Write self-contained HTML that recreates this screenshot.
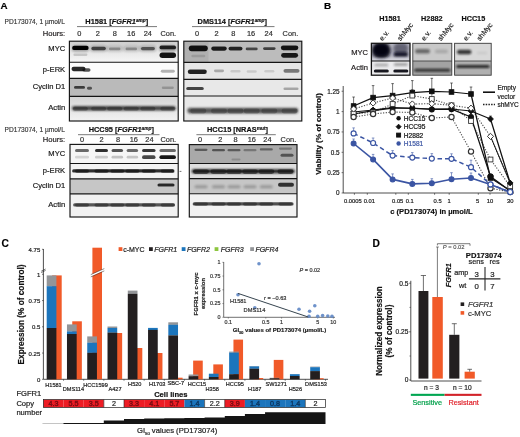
<!DOCTYPE html>
<html lang="en"><head><meta charset="utf-8"><title>Figure</title>
<style>html,body{margin:0;padding:0;background:#fff;}svg{display:block;font-family:"Liberation Sans", Arial, sans-serif;}</style>
</head><body>
<svg width="520" height="437" viewBox="0 0 520 437">
<defs>
<filter id="b1" x="-20%" y="-80%" width="140%" height="260%"><feGaussianBlur stdDeviation="0.6"/></filter>
<filter id="b2" x="-20%" y="-80%" width="140%" height="260%"><feGaussianBlur stdDeviation="1.1"/></filter>
<filter id="b3" x="-30%" y="-30%" width="160%" height="160%"><feGaussianBlur stdDeviation="1.8"/></filter>
<filter id="soft" x="-5%" y="-5%" width="110%" height="110%"><feGaussianBlur stdDeviation="0.35"/></filter>
<linearGradient id="gH1" x1="0" y1="0" x2="0" y2="1"><stop offset="0" stop-color="#cdcdcd"/><stop offset="0.55" stop-color="#e8e8e8"/><stop offset="1" stop-color="#f6f6f6"/></linearGradient>
<linearGradient id="gH2" x1="0" y1="0" x2="0" y2="1"><stop offset="0" stop-color="#d4d4d4"/><stop offset="0.5" stop-color="#e4e4e4"/><stop offset="1" stop-color="#f2f2f2"/></linearGradient>
</defs>
<rect x="0" y="0" width="520" height="437" fill="#ffffff"/>
<text x="0.50" y="9.43" font-size="9.8" text-anchor="start" font-weight="bold" font-style="normal" fill="#000" stroke="#000" stroke-width="0.18">A</text>
<text x="65.20" y="51.14" font-size="7.6" text-anchor="end" font-weight="normal" font-style="normal" fill="#1a1a1a" stroke="#1a1a1a" stroke-width="0.2">MYC</text>
<text x="65.20" y="71.94" font-size="7.6" text-anchor="end" font-weight="normal" font-style="normal" fill="#1a1a1a" stroke="#1a1a1a" stroke-width="0.2">p-ERK</text>
<text x="65.20" y="89.34" font-size="7.6" text-anchor="end" font-weight="normal" font-style="normal" fill="#1a1a1a" stroke="#1a1a1a" stroke-width="0.2">Cyclin D1</text>
<text x="65.20" y="109.94" font-size="7.6" text-anchor="end" font-weight="normal" font-style="normal" fill="#1a1a1a" stroke="#1a1a1a" stroke-width="0.2">Actin</text>
<text x="65.20" y="155.94" font-size="7.6" text-anchor="end" font-weight="normal" font-style="normal" fill="#1a1a1a" stroke="#1a1a1a" stroke-width="0.2">MYC</text>
<text x="65.20" y="173.14" font-size="7.6" text-anchor="end" font-weight="normal" font-style="normal" fill="#1a1a1a" stroke="#1a1a1a" stroke-width="0.2">p-ERK</text>
<text x="65.20" y="187.94" font-size="7.6" text-anchor="end" font-weight="normal" font-style="normal" fill="#1a1a1a" stroke="#1a1a1a" stroke-width="0.2">Cyclin D1</text>
<text x="65.20" y="206.54" font-size="7.6" text-anchor="end" font-weight="normal" font-style="normal" fill="#1a1a1a" stroke="#1a1a1a" stroke-width="0.2">Actin</text>
<text x="65.20" y="36.04" font-size="7.6" text-anchor="end" font-weight="normal" font-style="normal" fill="#231f20" stroke="#231f20" stroke-width="0.2">Hours:</text>
<text x="65.20" y="142.34" font-size="7.6" text-anchor="end" font-weight="normal" font-style="normal" fill="#231f20" stroke="#231f20" stroke-width="0.2">Hours:</text>
<text x="4.60" y="24.08" font-size="6.6" text-anchor="start" font-weight="normal" font-style="normal" fill="#303030" stroke="#303030" stroke-width="0.14">PD173074, 1 µmol/L</text>
<text x="4.60" y="132.08" font-size="6.6" text-anchor="start" font-weight="normal" font-style="normal" fill="#303030" stroke="#303030" stroke-width="0.14">PD173074, 1 µmol/L</text>
<text x="116.80" y="24.06" font-size="7.4" text-anchor="middle" font-weight="bold" font-style="normal" fill="#111" stroke="#111" stroke-width="0.18">H1581 [<tspan font-style="italic">FGFR1</tspan><tspan font-size="4.8" dy="-2.3" font-style="italic">amp</tspan><tspan dy="2.3">]</tspan></text>
<line x1="77.00" y1="26.60" x2="157.00" y2="26.60" stroke="#6a6a6a" stroke-width="0.9"/>
<text x="79.20" y="36.06" font-size="7.4" text-anchor="middle" font-weight="normal" font-style="normal" fill="#333" stroke="#333" stroke-width="0.2">0</text>
<text x="97.90" y="36.06" font-size="7.4" text-anchor="middle" font-weight="normal" font-style="normal" fill="#333" stroke="#333" stroke-width="0.2">2</text>
<text x="114.70" y="36.06" font-size="7.4" text-anchor="middle" font-weight="normal" font-style="normal" fill="#333" stroke="#333" stroke-width="0.2">8</text>
<text x="131.20" y="36.06" font-size="7.4" text-anchor="middle" font-weight="normal" font-style="normal" fill="#333" stroke="#333" stroke-width="0.2">16</text>
<text x="147.80" y="36.06" font-size="7.4" text-anchor="middle" font-weight="normal" font-style="normal" fill="#333" stroke="#333" stroke-width="0.2">24</text>
<text x="168.30" y="36.06" font-size="7.4" text-anchor="middle" font-weight="normal" font-style="normal" fill="#333" stroke="#333" stroke-width="0.2">Con.</text>
<rect x="69.40" y="41.20" width="108.80" height="21.00" fill="url(#gH1)"/>
<rect x="69.40" y="62.20" width="108.80" height="16.10" fill="#fcfcfc"/>
<rect x="69.40" y="78.30" width="108.80" height="18.10" fill="#bababa"/>
<rect x="69.40" y="96.40" width="108.80" height="24.60" fill="url(#gH2)"/>
<rect x="71.90" y="45.35" width="17.00" height="6.50" rx="3.25" fill="#111" opacity="0.3" filter="url(#b2)"/>
<rect x="90.10" y="45.35" width="17.00" height="6.50" rx="3.25" fill="#111" opacity="0.22" filter="url(#b2)"/>
<rect x="106.20" y="45.35" width="17.00" height="6.50" rx="3.25" fill="#111" opacity="0.14" filter="url(#b2)"/>
<rect x="122.80" y="45.35" width="17.00" height="6.50" rx="3.25" fill="#111" opacity="0.14" filter="url(#b2)"/>
<rect x="139.40" y="45.35" width="17.00" height="6.50" rx="3.25" fill="#111" opacity="0.2" filter="url(#b2)"/>
<rect x="159.30" y="45.35" width="17.00" height="6.50" rx="3.25" fill="#111" opacity="0.3" filter="url(#b2)"/>
<rect x="72.15" y="45.70" width="16.50" height="4.40" rx="2.20" fill="#050505" opacity="1.0" filter="url(#b1)"/>
<rect x="73.40" y="53.55" width="14.00" height="2.50" rx="1.25" fill="#111" opacity="0.16" filter="url(#b1)"/>
<rect x="91.35" y="46.85" width="14.50" height="3.30" rx="1.65" fill="#111" opacity="0.68" filter="url(#b1)"/>
<rect x="108.95" y="47.45" width="11.50" height="2.90" rx="1.45" fill="#111" opacity="0.3" filter="url(#b1)"/>
<rect x="125.55" y="47.45" width="11.50" height="2.90" rx="1.45" fill="#111" opacity="0.3" filter="url(#b1)"/>
<rect x="140.90" y="46.95" width="14.00" height="3.30" rx="1.65" fill="#111" opacity="0.58" filter="url(#b1)"/>
<rect x="159.55" y="45.55" width="16.50" height="3.70" rx="1.85" fill="#111" opacity="0.88" filter="url(#b1)"/>
<rect x="159.55" y="52.45" width="16.50" height="5.50" rx="2.75" fill="#111" opacity="0.97" filter="url(#b1)"/>
<rect x="71.50" y="66.85" width="14.00" height="4.30" rx="2.15" fill="#111" opacity="0.88" filter="url(#b1)"/>
<rect x="82.50" y="68.25" width="8.00" height="3.50" rx="1.75" fill="#111" opacity="0.7" filter="url(#b1)"/>
<rect x="160.80" y="69.85" width="14.00" height="2.90" rx="1.45" fill="#111" opacity="0.3" filter="url(#b1)"/>
<rect x="74.00" y="85.95" width="11.00" height="2.90" rx="1.45" fill="#111" opacity="0.72" filter="url(#b1)"/>
<rect x="87.00" y="86.75" width="5.00" height="2.90" rx="1.45" fill="#111" opacity="0.6" filter="url(#b1)"/>
<rect x="161.80" y="86.55" width="12.00" height="2.50" rx="1.25" fill="#111" opacity="0.22" filter="url(#b1)"/>
<rect x="71.80" y="105.90" width="104.00" height="4.60" rx="2.30" fill="#1c1c1c" opacity="0.78" filter="url(#b2)"/>
<rect x="72.90" y="106.75" width="15.00" height="3.90" rx="1.95" fill="#111" opacity="0.3" filter="url(#b1)"/>
<rect x="91.10" y="106.75" width="15.00" height="3.90" rx="1.95" fill="#111" opacity="0.3" filter="url(#b1)"/>
<rect x="107.20" y="106.75" width="15.00" height="3.90" rx="1.95" fill="#111" opacity="0.3" filter="url(#b1)"/>
<rect x="123.80" y="106.75" width="15.00" height="3.90" rx="1.95" fill="#111" opacity="0.3" filter="url(#b1)"/>
<rect x="140.40" y="106.75" width="15.00" height="3.90" rx="1.95" fill="#111" opacity="0.3" filter="url(#b1)"/>
<rect x="160.30" y="106.75" width="15.00" height="3.90" rx="1.95" fill="#111" opacity="0.3" filter="url(#b1)"/>
<rect x="69.40" y="41.20" width="108.80" height="79.80" fill="none" stroke="#141414" stroke-width="1.15"/>
<line x1="69.40" y1="62.20" x2="178.20" y2="62.20" stroke="#141414" stroke-width="1.15"/>
<line x1="69.40" y1="78.30" x2="178.20" y2="78.30" stroke="#141414" stroke-width="1.15"/>
<line x1="69.40" y1="96.40" x2="178.20" y2="96.40" stroke="#141414" stroke-width="1.15"/>
<text x="232.30" y="24.06" font-size="7.4" text-anchor="middle" font-weight="bold" font-style="normal" fill="#111" stroke="#111" stroke-width="0.18">DMS114 [<tspan font-style="italic">FGFR1</tspan><tspan font-size="4.8" dy="-2.3" font-style="italic">amp</tspan><tspan dy="2.3">]</tspan></text>
<line x1="192.00" y1="26.60" x2="274.50" y2="26.60" stroke="#6a6a6a" stroke-width="0.9"/>
<text x="197.00" y="36.06" font-size="7.4" text-anchor="middle" font-weight="normal" font-style="normal" fill="#333" stroke="#333" stroke-width="0.2">0</text>
<text x="216.60" y="36.06" font-size="7.4" text-anchor="middle" font-weight="normal" font-style="normal" fill="#333" stroke="#333" stroke-width="0.2">2</text>
<text x="233.40" y="36.06" font-size="7.4" text-anchor="middle" font-weight="normal" font-style="normal" fill="#333" stroke="#333" stroke-width="0.2">8</text>
<text x="251.00" y="36.06" font-size="7.4" text-anchor="middle" font-weight="normal" font-style="normal" fill="#333" stroke="#333" stroke-width="0.2">16</text>
<text x="268.70" y="36.06" font-size="7.4" text-anchor="middle" font-weight="normal" font-style="normal" fill="#333" stroke="#333" stroke-width="0.2">24</text>
<text x="290.40" y="36.06" font-size="7.4" text-anchor="middle" font-weight="normal" font-style="normal" fill="#333" stroke="#333" stroke-width="0.2">Con.</text>
<rect x="183.80" y="41.20" width="118.00" height="21.20" fill="#b0b0b0"/>
<rect x="183.80" y="62.40" width="118.00" height="16.90" fill="#e6e6e6"/>
<rect x="183.80" y="79.30" width="118.00" height="16.70" fill="#e8e8e8"/>
<rect x="183.80" y="96.00" width="118.00" height="25.00" fill="#e8e8e8"/>
<rect x="208.5" y="41.2" width="93.3" height="21.2" fill="#bcbcbc"/>
<rect x="188.80" y="45.45" width="19.00" height="5.70" rx="2.85" fill="#111" opacity="0.98" filter="url(#b1)"/>
<rect x="191.30" y="54.65" width="14.00" height="2.70" rx="1.35" fill="#111" opacity="0.13" filter="url(#b1)"/>
<rect x="211.25" y="46.45" width="15.50" height="4.30" rx="2.15" fill="#111" opacity="0.92" filter="url(#b1)"/>
<rect x="228.50" y="46.65" width="14.00" height="3.90" rx="1.95" fill="#111" opacity="0.88" filter="url(#b1)"/>
<rect x="245.70" y="47.45" width="12.00" height="2.90" rx="1.45" fill="#111" opacity="0.68" filter="url(#b1)"/>
<rect x="263.05" y="47.15" width="12.50" height="2.90" rx="1.45" fill="#111" opacity="0.72" filter="url(#b1)"/>
<rect x="280.85" y="45.45" width="17.50" height="4.70" rx="2.35" fill="#111" opacity="0.96" filter="url(#b1)"/>
<rect x="281.10" y="52.95" width="17.00" height="4.70" rx="2.35" fill="#111" opacity="0.94" filter="url(#b1)"/>
<rect x="187.80" y="69.45" width="19.00" height="4.50" rx="2.25" fill="#111" opacity="0.9" filter="url(#b1)"/>
<rect x="214.00" y="69.45" width="10.00" height="2.70" rx="1.35" fill="#111" opacity="0.28" filter="url(#b1)"/>
<rect x="230.50" y="69.95" width="10.00" height="2.50" rx="1.25" fill="#111" opacity="0.13" filter="url(#b1)"/>
<rect x="246.70" y="70.25" width="10.00" height="2.50" rx="1.25" fill="#111" opacity="0.13" filter="url(#b1)"/>
<rect x="264.30" y="69.95" width="10.00" height="2.50" rx="1.25" fill="#111" opacity="0.12" filter="url(#b1)"/>
<rect x="283.50" y="68.95" width="16.00" height="3.70" rx="1.85" fill="#111" opacity="0.5" filter="url(#b1)"/>
<rect x="186.25" y="86.95" width="17.50" height="3.10" rx="1.55" fill="#111" opacity="0.75" filter="url(#b1)"/>
<rect x="283.50" y="87.45" width="15.00" height="2.50" rx="1.25" fill="#111" opacity="0.3" filter="url(#b1)"/>
<rect x="187.30" y="107.80" width="111.00" height="5.60" rx="2.80" fill="#222" opacity="0.72" filter="url(#b2)"/>
<rect x="190.30" y="108.55" width="16.00" height="4.90" rx="2.45" fill="#111" opacity="0.25" filter="url(#b1)"/>
<rect x="211.00" y="108.55" width="16.00" height="4.90" rx="2.45" fill="#111" opacity="0.25" filter="url(#b1)"/>
<rect x="227.50" y="108.55" width="16.00" height="4.90" rx="2.45" fill="#111" opacity="0.25" filter="url(#b1)"/>
<rect x="243.70" y="108.55" width="16.00" height="4.90" rx="2.45" fill="#111" opacity="0.25" filter="url(#b1)"/>
<rect x="261.30" y="108.55" width="16.00" height="4.90" rx="2.45" fill="#111" opacity="0.25" filter="url(#b1)"/>
<rect x="281.60" y="108.55" width="16.00" height="4.90" rx="2.45" fill="#111" opacity="0.25" filter="url(#b1)"/>
<rect x="183.80" y="41.20" width="118.00" height="79.80" fill="none" stroke="#141414" stroke-width="1.15"/>
<line x1="183.80" y1="62.40" x2="301.80" y2="62.40" stroke="#141414" stroke-width="1.15"/>
<line x1="183.80" y1="79.30" x2="301.80" y2="79.30" stroke="#141414" stroke-width="1.15"/>
<line x1="183.80" y1="96.00" x2="301.80" y2="96.00" stroke="#141414" stroke-width="1.15"/>
<text x="121.30" y="132.16" font-size="7.4" text-anchor="middle" font-weight="bold" font-style="normal" fill="#111" stroke="#111" stroke-width="0.18">HCC95 [<tspan font-style="italic">FGFR1</tspan><tspan font-size="4.8" dy="-2.3" font-style="italic">amp</tspan><tspan dy="2.3">]</tspan></text>
<line x1="78.00" y1="134.70" x2="159.50" y2="134.70" stroke="#6a6a6a" stroke-width="0.9"/>
<text x="82.00" y="142.36" font-size="7.4" text-anchor="middle" font-weight="normal" font-style="normal" fill="#333" stroke="#333" stroke-width="0.2">0</text>
<text x="101.50" y="142.36" font-size="7.4" text-anchor="middle" font-weight="normal" font-style="normal" fill="#333" stroke="#333" stroke-width="0.2">2</text>
<text x="118.00" y="142.36" font-size="7.4" text-anchor="middle" font-weight="normal" font-style="normal" fill="#333" stroke="#333" stroke-width="0.2">8</text>
<text x="133.80" y="142.36" font-size="7.4" text-anchor="middle" font-weight="normal" font-style="normal" fill="#333" stroke="#333" stroke-width="0.2">16</text>
<text x="149.40" y="142.36" font-size="7.4" text-anchor="middle" font-weight="normal" font-style="normal" fill="#333" stroke="#333" stroke-width="0.2">24</text>
<text x="168.30" y="142.36" font-size="7.4" text-anchor="middle" font-weight="normal" font-style="normal" fill="#333" stroke="#333" stroke-width="0.2">Con.</text>
<rect x="70.00" y="144.40" width="108.20" height="19.10" fill="#f6f6f6"/>
<rect x="70.00" y="163.50" width="108.20" height="15.30" fill="#f3f3f3"/>
<rect x="70.00" y="178.80" width="108.20" height="15.00" fill="#c6c6c6"/>
<rect x="70.00" y="193.80" width="108.20" height="23.20" fill="#f1f1f1"/>
<rect x="75.00" y="148.90" width="14.00" height="3.00" rx="1.50" fill="#111" opacity="0.6" filter="url(#b1)"/>
<rect x="75.00" y="155.85" width="14.00" height="2.70" rx="1.35" fill="#111" opacity="0.14" filter="url(#b1)"/>
<rect x="95.00" y="148.90" width="13.00" height="3.00" rx="1.50" fill="#111" opacity="0.85" filter="url(#b1)"/>
<rect x="95.00" y="155.85" width="13.00" height="2.70" rx="1.35" fill="#111" opacity="0.18" filter="url(#b1)"/>
<rect x="111.55" y="148.90" width="11.50" height="3.00" rx="1.50" fill="#111" opacity="0.7" filter="url(#b1)"/>
<rect x="111.55" y="155.85" width="11.50" height="2.70" rx="1.35" fill="#111" opacity="0.22" filter="url(#b1)"/>
<rect x="126.65" y="148.90" width="11.50" height="3.00" rx="1.50" fill="#111" opacity="0.6" filter="url(#b1)"/>
<rect x="126.65" y="155.85" width="11.50" height="2.70" rx="1.35" fill="#111" opacity="0.2" filter="url(#b1)"/>
<rect x="142.05" y="148.90" width="13.50" height="3.00" rx="1.50" fill="#111" opacity="0.82" filter="url(#b1)"/>
<rect x="142.05" y="155.30" width="13.50" height="3.80" rx="1.90" fill="#111" opacity="0.75" filter="url(#b1)"/>
<rect x="159.45" y="148.90" width="16.50" height="3.00" rx="1.50" fill="#111" opacity="0.6" filter="url(#b1)"/>
<rect x="159.45" y="155.30" width="16.50" height="3.80" rx="1.90" fill="#111" opacity="0.96" filter="url(#b1)"/>
<rect x="72.10" y="169.35" width="102.00" height="3.10" rx="1.55" fill="#111" opacity="0.85" filter="url(#b1)"/>
<rect x="75.00" y="169.20" width="14.00" height="3.80" rx="1.90" fill="#111" opacity="0.5" filter="url(#b1)"/>
<rect x="94.50" y="169.20" width="14.00" height="3.80" rx="1.90" fill="#111" opacity="0.5" filter="url(#b1)"/>
<rect x="110.30" y="169.20" width="14.00" height="3.80" rx="1.90" fill="#111" opacity="0.5" filter="url(#b1)"/>
<rect x="125.40" y="169.20" width="14.00" height="3.80" rx="1.90" fill="#111" opacity="0.5" filter="url(#b1)"/>
<rect x="141.80" y="169.20" width="14.00" height="3.80" rx="1.90" fill="#111" opacity="0.5" filter="url(#b1)"/>
<rect x="160.70" y="169.20" width="14.00" height="3.80" rx="1.90" fill="#111" opacity="0.5" filter="url(#b1)"/>
<rect x="157.50" y="183.40" width="17.00" height="3.20" rx="1.60" fill="#111" opacity="0.85" filter="url(#b1)"/>
<rect x="73.10" y="203.25" width="102.00" height="3.30" rx="1.65" fill="#111" opacity="0.68" filter="url(#b1)"/>
<rect x="75.00" y="203.30" width="14.00" height="3.60" rx="1.80" fill="#111" opacity="0.35" filter="url(#b1)"/>
<rect x="94.50" y="203.30" width="14.00" height="3.60" rx="1.80" fill="#111" opacity="0.35" filter="url(#b1)"/>
<rect x="110.30" y="203.30" width="14.00" height="3.60" rx="1.80" fill="#111" opacity="0.35" filter="url(#b1)"/>
<rect x="125.40" y="203.30" width="14.00" height="3.60" rx="1.80" fill="#111" opacity="0.35" filter="url(#b1)"/>
<rect x="141.80" y="203.30" width="14.00" height="3.60" rx="1.80" fill="#111" opacity="0.35" filter="url(#b1)"/>
<rect x="160.70" y="203.30" width="14.00" height="3.60" rx="1.80" fill="#111" opacity="0.35" filter="url(#b1)"/>
<rect x="70.00" y="144.40" width="108.20" height="72.60" fill="none" stroke="#141414" stroke-width="1.15"/>
<line x1="70.00" y1="163.50" x2="178.20" y2="163.50" stroke="#141414" stroke-width="1.15"/>
<line x1="70.00" y1="178.80" x2="178.20" y2="178.80" stroke="#141414" stroke-width="1.15"/>
<line x1="70.00" y1="193.80" x2="178.20" y2="193.80" stroke="#141414" stroke-width="1.15"/>
<text x="237.50" y="132.16" font-size="7.4" text-anchor="middle" font-weight="bold" font-style="normal" fill="#111" stroke="#111" stroke-width="0.18">HCC15 [<tspan>NRAS</tspan><tspan font-size="4.8" dy="-2.3">mut</tspan><tspan dy="2.3">]</tspan></text>
<line x1="196.40" y1="134.70" x2="275.80" y2="134.70" stroke="#6a6a6a" stroke-width="0.9"/>
<text x="200.00" y="142.36" font-size="7.4" text-anchor="middle" font-weight="normal" font-style="normal" fill="#333" stroke="#333" stroke-width="0.2">0</text>
<text x="220.30" y="142.36" font-size="7.4" text-anchor="middle" font-weight="normal" font-style="normal" fill="#333" stroke="#333" stroke-width="0.2">2</text>
<text x="235.50" y="142.36" font-size="7.4" text-anchor="middle" font-weight="normal" font-style="normal" fill="#333" stroke="#333" stroke-width="0.2">8</text>
<text x="251.80" y="142.36" font-size="7.4" text-anchor="middle" font-weight="normal" font-style="normal" fill="#333" stroke="#333" stroke-width="0.2">16</text>
<text x="267.40" y="142.36" font-size="7.4" text-anchor="middle" font-weight="normal" font-style="normal" fill="#333" stroke="#333" stroke-width="0.2">24</text>
<text x="288.40" y="142.36" font-size="7.4" text-anchor="middle" font-weight="normal" font-style="normal" fill="#333" stroke="#333" stroke-width="0.2">Con.</text>
<rect x="189.30" y="144.60" width="107.70" height="18.90" fill="#a9a9a9"/>
<rect x="189.30" y="163.50" width="107.70" height="15.10" fill="#dedede"/>
<rect x="189.30" y="178.60" width="107.70" height="15.10" fill="#c6c6c6"/>
<rect x="189.30" y="193.70" width="107.70" height="23.30" fill="#f2f2f2"/>
<rect x="194.50" y="148.65" width="13.00" height="2.30" rx="1.15" fill="#111" opacity="0.5" filter="url(#b1)"/>
<rect x="212.00" y="149.05" width="13.00" height="2.30" rx="1.15" fill="#111" opacity="0.55" filter="url(#b1)"/>
<rect x="227.50" y="149.05" width="13.00" height="2.30" rx="1.15" fill="#111" opacity="0.5" filter="url(#b1)"/>
<rect x="243.50" y="149.05" width="13.00" height="2.30" rx="1.15" fill="#111" opacity="0.32" filter="url(#b1)"/>
<rect x="259.80" y="148.25" width="13.00" height="2.30" rx="1.15" fill="#111" opacity="0.45" filter="url(#b1)"/>
<rect x="279.00" y="147.45" width="13.00" height="2.30" rx="1.15" fill="#111" opacity="0.32" filter="url(#b1)"/>
<rect x="280.50" y="153.70" width="13.00" height="3.00" rx="1.50" fill="#111" opacity="0.55" filter="url(#b1)"/>
<rect x="231.50" y="158.55" width="9.00" height="1.90" rx="0.95" fill="#111" opacity="0.18" filter="url(#b1)"/>
<rect x="191.65" y="169.20" width="103.00" height="4.00" rx="2.00" fill="#111" opacity="0.9" filter="url(#b2)"/>
<rect x="193.00" y="169.15" width="16.00" height="4.90" rx="2.45" fill="#111" opacity="0.55" filter="url(#b1)"/>
<rect x="210.50" y="169.15" width="16.00" height="4.90" rx="2.45" fill="#111" opacity="0.55" filter="url(#b1)"/>
<rect x="226.00" y="169.15" width="16.00" height="4.90" rx="2.45" fill="#111" opacity="0.55" filter="url(#b1)"/>
<rect x="242.00" y="169.15" width="16.00" height="4.90" rx="2.45" fill="#111" opacity="0.55" filter="url(#b1)"/>
<rect x="258.30" y="169.15" width="16.00" height="4.90" rx="2.45" fill="#111" opacity="0.55" filter="url(#b1)"/>
<rect x="277.50" y="169.15" width="16.00" height="4.90" rx="2.45" fill="#111" opacity="0.55" filter="url(#b1)"/>
<rect x="194.50" y="185.30" width="13.00" height="3.00" rx="1.50" fill="#111" opacity="0.25" filter="url(#b2)"/>
<rect x="212.00" y="185.30" width="13.00" height="3.00" rx="1.50" fill="#111" opacity="0.25" filter="url(#b2)"/>
<rect x="227.50" y="185.30" width="13.00" height="3.00" rx="1.50" fill="#111" opacity="0.25" filter="url(#b2)"/>
<rect x="243.50" y="185.30" width="13.00" height="3.00" rx="1.50" fill="#111" opacity="0.25" filter="url(#b2)"/>
<rect x="259.80" y="185.30" width="13.00" height="3.00" rx="1.50" fill="#111" opacity="0.25" filter="url(#b2)"/>
<rect x="278.00" y="182.85" width="16.00" height="3.90" rx="1.95" fill="#111" opacity="0.8" filter="url(#b1)"/>
<rect x="192.65" y="202.25" width="101.00" height="3.30" rx="1.65" fill="#111" opacity="0.7" filter="url(#b1)"/>
<rect x="194.00" y="202.30" width="14.00" height="3.60" rx="1.80" fill="#111" opacity="0.35" filter="url(#b1)"/>
<rect x="211.50" y="202.30" width="14.00" height="3.60" rx="1.80" fill="#111" opacity="0.35" filter="url(#b1)"/>
<rect x="227.00" y="202.30" width="14.00" height="3.60" rx="1.80" fill="#111" opacity="0.35" filter="url(#b1)"/>
<rect x="243.00" y="202.30" width="14.00" height="3.60" rx="1.80" fill="#111" opacity="0.35" filter="url(#b1)"/>
<rect x="259.30" y="202.30" width="14.00" height="3.60" rx="1.80" fill="#111" opacity="0.35" filter="url(#b1)"/>
<rect x="278.50" y="202.30" width="14.00" height="3.60" rx="1.80" fill="#111" opacity="0.35" filter="url(#b1)"/>
<rect x="189.30" y="144.60" width="107.70" height="72.40" fill="none" stroke="#141414" stroke-width="1.15"/>
<line x1="189.30" y1="163.50" x2="297.00" y2="163.50" stroke="#141414" stroke-width="1.15"/>
<line x1="189.30" y1="178.60" x2="297.00" y2="178.60" stroke="#141414" stroke-width="1.15"/>
<line x1="189.30" y1="193.70" x2="297.00" y2="193.70" stroke="#141414" stroke-width="1.15"/>
<line x1="179.60" y1="171.40" x2="181.40" y2="171.40" stroke="#333" stroke-width="0.7"/>
<text x="324.00" y="9.06" font-size="9.9" text-anchor="start" font-weight="bold" font-style="normal" fill="#000" stroke="#000" stroke-width="0.18">B</text>
<text x="390.00" y="20.81" font-size="7.25" text-anchor="middle" font-weight="bold" font-style="normal" fill="#111" stroke="#111" stroke-width="0.18">H1581</text>
<text x="431.80" y="20.81" font-size="7.25" text-anchor="middle" font-weight="bold" font-style="normal" fill="#111" stroke="#111" stroke-width="0.18">H2882</text>
<text x="473.30" y="20.81" font-size="7.25" text-anchor="middle" font-weight="bold" font-style="normal" fill="#111" stroke="#111" stroke-width="0.18">HCC15</text>
<text x="382.6" y="41.2" font-size="7.1" fill="#1a1a1a" stroke="#1a1a1a" stroke-width="0.15" transform="rotate(-51 382.6 41.2)">e.v.</text>
<text x="400.6" y="41.2" font-size="7.1" fill="#1a1a1a" stroke="#1a1a1a" stroke-width="0.15" transform="rotate(-51 400.6 41.2)">shMyc</text>
<text x="424.4" y="41.2" font-size="7.1" fill="#1a1a1a" stroke="#1a1a1a" stroke-width="0.15" transform="rotate(-51 424.4 41.2)">e.v.</text>
<text x="441.0" y="41.2" font-size="7.1" fill="#1a1a1a" stroke="#1a1a1a" stroke-width="0.15" transform="rotate(-51 441.0 41.2)">shMyc</text>
<text x="466.4" y="41.2" font-size="7.1" fill="#1a1a1a" stroke="#1a1a1a" stroke-width="0.15" transform="rotate(-51 466.4 41.2)">e.v.</text>
<text x="480.0" y="41.2" font-size="7.1" fill="#1a1a1a" stroke="#1a1a1a" stroke-width="0.15" transform="rotate(-51 480.0 41.2)">shMyc</text>
<text x="368.00" y="54.74" font-size="7.6" text-anchor="end" font-weight="normal" font-style="normal" fill="#231f20" stroke="#231f20" stroke-width="0.2">MYC</text>
<text x="368.00" y="70.34" font-size="7.6" text-anchor="end" font-weight="normal" font-style="normal" fill="#231f20" stroke="#231f20" stroke-width="0.2">Actin</text>
<clipPath id="cpB1"><rect x="371.4" y="43.3" width="38.60000000000002" height="31.9"/></clipPath>
<g clip-path="url(#cpB1)">
<rect x="371.40" y="43.30" width="38.60" height="17.70" fill="#b9b9c4"/>
<rect x="371.40" y="61.00" width="38.60" height="14.20" fill="#ececee"/>
<rect x="371.80" y="42.00" width="19.00" height="17.00" rx="8.50" fill="#0c0c1e" opacity="0.95" filter="url(#b3)"/>
<rect x="374.00" y="45.00" width="14.00" height="10.00" rx="5.00" fill="#05050f" opacity="0.85" filter="url(#b2)"/>
<rect x="393.30" y="43.00" width="15.00" height="11.00" rx="5.50" fill="#1a1a30" opacity="0.55" filter="url(#b3)"/>
<rect x="393.55" y="52.10" width="14.50" height="4.60" rx="2.30" fill="#0c0c20" opacity="0.9" filter="url(#b2)"/>
<rect x="371" y="58.2" width="39" height="3" fill="#f0f0f4" opacity="0.55" filter="url(#b2)"/>
<rect x="371.40" y="61.00" width="38.60" height="14.20" fill="#ececee"/>
<rect x="373.80" y="69.45" width="15.00" height="3.10" rx="1.55" fill="#101018" opacity="0.95" filter="url(#b1)"/>
<rect x="393.30" y="69.45" width="15.00" height="3.10" rx="1.55" fill="#101018" opacity="0.95" filter="url(#b1)"/>
<rect x="374.30" y="63.50" width="14.00" height="3.00" rx="1.50" fill="#111" opacity="0.28" filter="url(#b2)"/>
<rect x="393.80" y="63.10" width="14.00" height="3.00" rx="1.50" fill="#111" opacity="0.32" filter="url(#b2)"/>
</g>
<rect x="371.40" y="43.30" width="38.60" height="31.90" fill="none" stroke="#141414" stroke-width="1.3"/>
<line x1="371.40" y1="61.00" x2="410.00" y2="61.00" stroke="#141414" stroke-width="1.1700000000000002"/>
<rect x="412.80" y="43.30" width="39.00" height="17.70" fill="#c9c9c9"/>
<rect x="412.80" y="61.00" width="39.00" height="14.20" fill="#a3a3a3"/>
<rect x="415.00" y="48.90" width="15.00" height="4.60" rx="2.30" fill="#111" opacity="0.5" filter="url(#b2)"/>
<rect x="435.00" y="49.50" width="13.00" height="3.80" rx="1.90" fill="#111" opacity="0.17" filter="url(#b2)"/>
<rect x="414.30" y="68.70" width="36.00" height="3.00" rx="1.50" fill="#111" opacity="0.78" filter="url(#b2)"/>
<rect x="412.80" y="43.30" width="39.00" height="31.90" fill="none" stroke="#3a3a3a" stroke-width="0.9"/>
<line x1="412.80" y1="61.00" x2="451.80" y2="61.00" stroke="#3a3a3a" stroke-width="0.81"/>
<rect x="454.60" y="43.30" width="36.60" height="17.70" fill="#d8d8d8"/>
<rect x="454.60" y="61.00" width="36.60" height="14.20" fill="#b0b0b0"/>
<rect x="456.95" y="49.70" width="14.50" height="4.60" rx="2.30" fill="#111" opacity="0.8" filter="url(#b2)"/>
<rect x="477.00" y="51.75" width="10.00" height="2.50" rx="1.25" fill="#111" opacity="0.07" filter="url(#b2)"/>
<rect x="456.15" y="65.10" width="33.50" height="3.00" rx="1.50" fill="#111" opacity="0.85" filter="url(#b2)"/>
<rect x="454.60" y="43.30" width="36.60" height="31.90" fill="none" stroke="#3a3a3a" stroke-width="0.9"/>
<line x1="454.60" y1="61.00" x2="491.20" y2="61.00" stroke="#3a3a3a" stroke-width="0.81"/>
<line x1="343.20" y1="86.00" x2="343.20" y2="193.00" stroke="#222" stroke-width="0.8"/>
<line x1="343.20" y1="193.00" x2="514.00" y2="193.00" stroke="#222" stroke-width="0.8"/>
<text x="339.60" y="93.55" font-size="6.4" text-anchor="end" font-weight="normal" font-style="normal" fill="#222" stroke="#222" stroke-width="0.2">1.25</text>
<line x1="341.60" y1="91.25" x2="343.20" y2="91.25" stroke="#222" stroke-width="0.6"/>
<text x="339.60" y="113.90" font-size="6.4" text-anchor="end" font-weight="normal" font-style="normal" fill="#222" stroke="#222" stroke-width="0.2">1</text>
<line x1="341.60" y1="111.60" x2="343.20" y2="111.60" stroke="#222" stroke-width="0.6"/>
<text x="339.60" y="134.25" font-size="6.4" text-anchor="end" font-weight="normal" font-style="normal" fill="#222" stroke="#222" stroke-width="0.2">0.75</text>
<line x1="341.60" y1="131.95" x2="343.20" y2="131.95" stroke="#222" stroke-width="0.6"/>
<text x="339.60" y="154.60" font-size="6.4" text-anchor="end" font-weight="normal" font-style="normal" fill="#222" stroke="#222" stroke-width="0.2">0.5</text>
<line x1="341.60" y1="152.30" x2="343.20" y2="152.30" stroke="#222" stroke-width="0.6"/>
<text x="339.60" y="174.95" font-size="6.4" text-anchor="end" font-weight="normal" font-style="normal" fill="#222" stroke="#222" stroke-width="0.2">0.25</text>
<line x1="341.60" y1="172.65" x2="343.20" y2="172.65" stroke="#222" stroke-width="0.6"/>
<text x="339.60" y="195.30" font-size="6.4" text-anchor="end" font-weight="normal" font-style="normal" fill="#222" stroke="#222" stroke-width="0.2">0</text>
<line x1="341.60" y1="193.00" x2="343.20" y2="193.00" stroke="#222" stroke-width="0.6"/>
<text x="352.80" y="202.89" font-size="5.8" text-anchor="middle" font-weight="normal" font-style="normal" fill="#222" stroke="#222" stroke-width="0.2">0.0005</text>
<text x="369.30" y="202.89" font-size="5.8" text-anchor="middle" font-weight="normal" font-style="normal" fill="#222" stroke="#222" stroke-width="0.2">0.01</text>
<text x="397.70" y="202.89" font-size="5.8" text-anchor="middle" font-weight="normal" font-style="normal" fill="#222" stroke="#222" stroke-width="0.2">0.05</text>
<text x="409.70" y="202.89" font-size="5.8" text-anchor="middle" font-weight="normal" font-style="normal" fill="#222" stroke="#222" stroke-width="0.2">0.1</text>
<text x="437.60" y="202.89" font-size="5.8" text-anchor="middle" font-weight="normal" font-style="normal" fill="#222" stroke="#222" stroke-width="0.2">0.5</text>
<text x="449.20" y="202.89" font-size="5.8" text-anchor="middle" font-weight="normal" font-style="normal" fill="#222" stroke="#222" stroke-width="0.2">1</text>
<text x="477.60" y="202.89" font-size="5.8" text-anchor="middle" font-weight="normal" font-style="normal" fill="#222" stroke="#222" stroke-width="0.2">5</text>
<text x="490.00" y="202.89" font-size="5.8" text-anchor="middle" font-weight="normal" font-style="normal" fill="#222" stroke="#222" stroke-width="0.2">10</text>
<text x="510.30" y="202.89" font-size="5.8" text-anchor="middle" font-weight="normal" font-style="normal" fill="#222" stroke="#222" stroke-width="0.2">30</text>
<line x1="354.40" y1="193.00" x2="354.40" y2="194.80" stroke="#222" stroke-width="0.6"/>
<line x1="367.30" y1="193.00" x2="367.30" y2="194.80" stroke="#222" stroke-width="0.6"/>
<line x1="395.80" y1="193.00" x2="395.80" y2="194.80" stroke="#222" stroke-width="0.6"/>
<line x1="408.30" y1="193.00" x2="408.30" y2="194.80" stroke="#222" stroke-width="0.6"/>
<line x1="434.60" y1="193.00" x2="434.60" y2="194.80" stroke="#222" stroke-width="0.6"/>
<line x1="449.20" y1="193.00" x2="449.20" y2="194.80" stroke="#222" stroke-width="0.6"/>
<line x1="478.30" y1="193.00" x2="478.30" y2="194.80" stroke="#222" stroke-width="0.6"/>
<line x1="490.00" y1="193.00" x2="490.00" y2="194.80" stroke="#222" stroke-width="0.6"/>
<line x1="510.20" y1="193.00" x2="510.20" y2="194.80" stroke="#222" stroke-width="0.6"/>
<text x="431.50" y="214.12" font-size="7.55" text-anchor="middle" font-weight="bold" font-style="normal" fill="#111" stroke="#111" stroke-width="0.18">c (PD173074) in µmol/L</text>
<text x="318.60" y="136.79" font-size="7.75" text-anchor="middle" font-weight="bold" font-style="normal" fill="#111" transform="rotate(-90 318.60 134.00)" stroke="#111" stroke-width="0.18">Viability (% of control)</text>
<polyline points="353.6,113.5 373.1,112.5 392.6,104.0 412.3,95.6 431.8,99.0 451.5,105.3 471.0,121.0 490.5,159.5 510.2,186.3" fill="none" stroke="#4a4a4a" stroke-width="1.1" stroke-dasharray="1.2 1.5" stroke-linejoin="round"/>
<polyline points="353.6,109.0 373.1,103.0 392.6,98.0 412.3,104.0 431.8,103.7 451.5,105.3 471.0,108.2 490.5,136.4 510.2,183.0" fill="none" stroke="#4a4a4a" stroke-width="1.1" stroke-dasharray="1.2 1.5" stroke-linejoin="round"/>
<polyline points="353.6,117.0 373.1,114.0 392.6,112.0 412.3,112.5 431.8,118.0 451.5,117.0 471.0,151.6 490.5,188.2 510.2,192.0" fill="none" stroke="#4a4a4a" stroke-width="1.1" stroke-dasharray="1.2 1.5" stroke-linejoin="round"/>
<polyline points="353.6,106.0 373.1,97.6 392.6,95.6 412.3,92.6 431.8,91.3 451.5,92.0 471.0,94.0 490.5,178.0 510.2,190.5" fill="none" stroke="#111" stroke-width="1.25" stroke-linejoin="round"/>
<polyline points="353.6,114.0 373.1,110.7 392.6,108.2 412.3,108.2 431.8,109.4 451.5,109.2 471.0,117.0 490.5,176.6 510.2,191.0" fill="none" stroke="#111" stroke-width="1.25" stroke-linejoin="round"/>
<polyline points="353.6,112.0 373.1,110.0 392.6,107.5 412.3,108.5 431.8,109.0 451.5,109.0 471.0,111.0 490.5,119.0 510.2,183.0" fill="none" stroke="#111" stroke-width="1.25" stroke-linejoin="round"/>
<polyline points="490.5,136.4 510.2,183.0" fill="none" stroke="#111" stroke-width="1.0" stroke-linejoin="round"/>
<line x1="353.60" y1="106.00" x2="353.60" y2="97.00" stroke="#111" stroke-width="0.6"/>
<line x1="352.30" y1="97.00" x2="354.90" y2="97.00" stroke="#111" stroke-width="0.6"/>
<line x1="373.10" y1="97.60" x2="373.10" y2="85.60" stroke="#111" stroke-width="0.6"/>
<line x1="371.80" y1="85.60" x2="374.40" y2="85.60" stroke="#111" stroke-width="0.6"/>
<line x1="392.60" y1="95.60" x2="392.60" y2="83.60" stroke="#111" stroke-width="0.6"/>
<line x1="391.30" y1="83.60" x2="393.90" y2="83.60" stroke="#111" stroke-width="0.6"/>
<line x1="412.30" y1="92.60" x2="412.30" y2="80.60" stroke="#111" stroke-width="0.6"/>
<line x1="411.00" y1="80.60" x2="413.60" y2="80.60" stroke="#111" stroke-width="0.6"/>
<line x1="431.80" y1="91.30" x2="431.80" y2="78.30" stroke="#111" stroke-width="0.6"/>
<line x1="430.50" y1="78.30" x2="433.10" y2="78.30" stroke="#111" stroke-width="0.6"/>
<line x1="451.50" y1="92.00" x2="451.50" y2="83.00" stroke="#111" stroke-width="0.6"/>
<line x1="450.20" y1="83.00" x2="452.80" y2="83.00" stroke="#111" stroke-width="0.6"/>
<line x1="471.00" y1="94.00" x2="471.00" y2="87.00" stroke="#111" stroke-width="0.6"/>
<line x1="469.70" y1="87.00" x2="472.30" y2="87.00" stroke="#111" stroke-width="0.6"/>
<line x1="392.60" y1="104.00" x2="392.60" y2="99.00" stroke="#444" stroke-width="0.6"/>
<line x1="391.30" y1="99.00" x2="393.90" y2="99.00" stroke="#444" stroke-width="0.6"/>
<line x1="412.30" y1="95.60" x2="412.30" y2="89.60" stroke="#444" stroke-width="0.6"/>
<line x1="411.00" y1="89.60" x2="413.60" y2="89.60" stroke="#444" stroke-width="0.6"/>
<line x1="431.80" y1="99.00" x2="431.80" y2="94.00" stroke="#444" stroke-width="0.6"/>
<line x1="430.50" y1="94.00" x2="433.10" y2="94.00" stroke="#444" stroke-width="0.6"/>
<line x1="471.00" y1="111.00" x2="471.00" y2="108.00" stroke="#111" stroke-width="0.6"/>
<line x1="469.70" y1="108.00" x2="472.30" y2="108.00" stroke="#111" stroke-width="0.6"/>
<line x1="490.50" y1="119.00" x2="490.50" y2="116.00" stroke="#111" stroke-width="0.6"/>
<line x1="489.20" y1="116.00" x2="491.80" y2="116.00" stroke="#111" stroke-width="0.6"/>
<polyline points="353.6,133.4 373.1,143.0 392.6,155.6 412.3,157.6 431.8,158.6 451.5,158.8 471.0,167.2 490.5,184.4 510.2,192.0" fill="none" stroke="#3b55a3" stroke-width="1.5" stroke-dasharray="4.5 3" stroke-linejoin="round"/>
<polyline points="353.6,143.5 373.1,159.4 392.6,179.4 412.3,183.9 431.8,183.2 451.5,179.2 471.0,178.0 490.5,184.6 510.2,192.3" fill="none" stroke="#3b55a3" stroke-width="1.6" stroke-linejoin="round"/>
<line x1="353.60" y1="133.40" x2="353.60" y2="127.90" stroke="#3b55a3" stroke-width="0.6"/>
<line x1="352.30" y1="127.90" x2="354.90" y2="127.90" stroke="#3b55a3" stroke-width="0.6"/>
<line x1="373.10" y1="143.00" x2="373.10" y2="138.00" stroke="#3b55a3" stroke-width="0.6"/>
<line x1="371.80" y1="138.00" x2="374.40" y2="138.00" stroke="#3b55a3" stroke-width="0.6"/>
<line x1="392.60" y1="155.60" x2="392.60" y2="150.60" stroke="#3b55a3" stroke-width="0.6"/>
<line x1="391.30" y1="150.60" x2="393.90" y2="150.60" stroke="#3b55a3" stroke-width="0.6"/>
<line x1="412.30" y1="157.60" x2="412.30" y2="152.60" stroke="#3b55a3" stroke-width="0.6"/>
<line x1="411.00" y1="152.60" x2="413.60" y2="152.60" stroke="#3b55a3" stroke-width="0.6"/>
<line x1="431.80" y1="158.60" x2="431.80" y2="153.60" stroke="#3b55a3" stroke-width="0.6"/>
<line x1="430.50" y1="153.60" x2="433.10" y2="153.60" stroke="#3b55a3" stroke-width="0.6"/>
<line x1="451.50" y1="158.80" x2="451.50" y2="153.80" stroke="#3b55a3" stroke-width="0.6"/>
<line x1="450.20" y1="153.80" x2="452.80" y2="153.80" stroke="#3b55a3" stroke-width="0.6"/>
<line x1="471.00" y1="167.20" x2="471.00" y2="160.20" stroke="#3b55a3" stroke-width="0.6"/>
<line x1="469.70" y1="160.20" x2="472.30" y2="160.20" stroke="#3b55a3" stroke-width="0.6"/>
<line x1="353.60" y1="143.50" x2="353.60" y2="139.00" stroke="#3b55a3" stroke-width="0.6"/>
<line x1="352.30" y1="139.00" x2="354.90" y2="139.00" stroke="#3b55a3" stroke-width="0.6"/>
<line x1="373.10" y1="159.40" x2="373.10" y2="154.40" stroke="#3b55a3" stroke-width="0.6"/>
<line x1="371.80" y1="154.40" x2="374.40" y2="154.40" stroke="#3b55a3" stroke-width="0.6"/>
<line x1="392.60" y1="179.40" x2="392.60" y2="173.90" stroke="#3b55a3" stroke-width="0.6"/>
<line x1="391.30" y1="173.90" x2="393.90" y2="173.90" stroke="#3b55a3" stroke-width="0.6"/>
<line x1="412.30" y1="183.90" x2="412.30" y2="179.40" stroke="#3b55a3" stroke-width="0.6"/>
<line x1="411.00" y1="179.40" x2="413.60" y2="179.40" stroke="#3b55a3" stroke-width="0.6"/>
<line x1="431.80" y1="183.20" x2="431.80" y2="178.70" stroke="#3b55a3" stroke-width="0.6"/>
<line x1="430.50" y1="178.70" x2="433.10" y2="178.70" stroke="#3b55a3" stroke-width="0.6"/>
<line x1="451.50" y1="179.20" x2="451.50" y2="172.70" stroke="#3b55a3" stroke-width="0.6"/>
<line x1="450.20" y1="172.70" x2="452.80" y2="172.70" stroke="#3b55a3" stroke-width="0.6"/>
<line x1="471.00" y1="178.00" x2="471.00" y2="173.00" stroke="#3b55a3" stroke-width="0.6"/>
<line x1="469.70" y1="173.00" x2="472.30" y2="173.00" stroke="#3b55a3" stroke-width="0.6"/>
<rect x="351.3" y="103.7" width="4.6" height="4.6" fill="#111" stroke="#111" stroke-width="0.9"/>
<rect x="370.8" y="95.3" width="4.6" height="4.6" fill="#111" stroke="#111" stroke-width="0.9"/>
<rect x="390.3" y="93.3" width="4.6" height="4.6" fill="#111" stroke="#111" stroke-width="0.9"/>
<rect x="410.0" y="90.3" width="4.6" height="4.6" fill="#111" stroke="#111" stroke-width="0.9"/>
<rect x="429.5" y="89.0" width="4.6" height="4.6" fill="#111" stroke="#111" stroke-width="0.9"/>
<rect x="449.2" y="89.7" width="4.6" height="4.6" fill="#111" stroke="#111" stroke-width="0.9"/>
<rect x="468.7" y="91.7" width="4.6" height="4.6" fill="#111" stroke="#111" stroke-width="0.9"/>
<rect x="488.2" y="175.7" width="4.6" height="4.6" fill="#111" stroke="#111" stroke-width="0.9"/>
<rect x="507.9" y="188.2" width="4.6" height="4.6" fill="#111" stroke="#111" stroke-width="0.9"/>
<circle cx="353.6" cy="114.0" r="2.4" fill="#111" stroke="#111" stroke-width="1.2"/>
<circle cx="373.1" cy="110.7" r="2.4" fill="#111" stroke="#111" stroke-width="1.2"/>
<circle cx="392.6" cy="108.2" r="2.4" fill="#111" stroke="#111" stroke-width="1.2"/>
<circle cx="412.3" cy="108.2" r="2.4" fill="#111" stroke="#111" stroke-width="1.2"/>
<circle cx="431.8" cy="109.4" r="2.4" fill="#111" stroke="#111" stroke-width="1.2"/>
<circle cx="451.5" cy="109.2" r="2.4" fill="#111" stroke="#111" stroke-width="1.2"/>
<circle cx="471.0" cy="117.0" r="2.4" fill="#111" stroke="#111" stroke-width="1.2"/>
<circle cx="490.5" cy="176.6" r="2.4" fill="#111" stroke="#111" stroke-width="1.2"/>
<circle cx="510.2" cy="191.0" r="2.4" fill="#111" stroke="#111" stroke-width="1.2"/>
<polygon points="353.6,109.1 356.5,112.0 353.6,114.9 350.7,112.0" fill="#111" stroke="#111" stroke-width="0.9"/>
<polygon points="373.1,107.1 376.0,110.0 373.1,112.9 370.2,110.0" fill="#111" stroke="#111" stroke-width="0.9"/>
<polygon points="392.6,104.6 395.5,107.5 392.6,110.4 389.7,107.5" fill="#111" stroke="#111" stroke-width="0.9"/>
<polygon points="412.3,105.6 415.2,108.5 412.3,111.4 409.4,108.5" fill="#111" stroke="#111" stroke-width="0.9"/>
<polygon points="431.8,106.1 434.7,109.0 431.8,111.9 428.9,109.0" fill="#111" stroke="#111" stroke-width="0.9"/>
<polygon points="451.5,106.1 454.4,109.0 451.5,111.9 448.6,109.0" fill="#111" stroke="#111" stroke-width="0.9"/>
<polygon points="471.0,108.1 473.9,111.0 471.0,113.9 468.1,111.0" fill="#111" stroke="#111" stroke-width="0.9"/>
<polygon points="490.5,116.1 493.4,119.0 490.5,121.9 487.6,119.0" fill="#111" stroke="#111" stroke-width="0.9"/>
<rect x="351.2" y="111.1" width="4.8" height="4.8" fill="#fff" stroke="#333" stroke-width="0.9"/>
<rect x="370.7" y="110.1" width="4.8" height="4.8" fill="#fff" stroke="#333" stroke-width="0.9"/>
<rect x="390.2" y="101.6" width="4.8" height="4.8" fill="#fff" stroke="#333" stroke-width="0.9"/>
<rect x="409.9" y="93.2" width="4.8" height="4.8" fill="#fff" stroke="#333" stroke-width="0.9"/>
<rect x="429.4" y="96.6" width="4.8" height="4.8" fill="#fff" stroke="#333" stroke-width="0.9"/>
<rect x="449.1" y="102.9" width="4.8" height="4.8" fill="#fff" stroke="#333" stroke-width="0.9"/>
<rect x="468.6" y="118.6" width="4.8" height="4.8" fill="#fff" stroke="#333" stroke-width="0.9"/>
<rect x="488.1" y="157.1" width="4.8" height="4.8" fill="#fff" stroke="#333" stroke-width="0.9"/>
<rect x="507.8" y="183.9" width="4.8" height="4.8" fill="#fff" stroke="#333" stroke-width="0.9"/>
<circle cx="353.6" cy="117.0" r="2.6" fill="#fff" stroke="#333" stroke-width="1.2"/>
<circle cx="373.1" cy="114.0" r="2.6" fill="#fff" stroke="#333" stroke-width="1.2"/>
<circle cx="392.6" cy="112.0" r="2.6" fill="#fff" stroke="#333" stroke-width="1.2"/>
<circle cx="412.3" cy="112.5" r="2.6" fill="#fff" stroke="#333" stroke-width="1.2"/>
<circle cx="431.8" cy="118.0" r="2.6" fill="#fff" stroke="#333" stroke-width="1.2"/>
<circle cx="451.5" cy="117.0" r="2.6" fill="#fff" stroke="#333" stroke-width="1.2"/>
<circle cx="471.0" cy="151.6" r="2.6" fill="#fff" stroke="#333" stroke-width="1.2"/>
<circle cx="490.5" cy="188.2" r="2.6" fill="#fff" stroke="#333" stroke-width="1.2"/>
<circle cx="510.2" cy="192.0" r="2.6" fill="#fff" stroke="#333" stroke-width="1.2"/>
<polygon points="353.6,105.9 356.7,109.0 353.6,112.1 350.5,109.0" fill="#fff" stroke="#222" stroke-width="0.9"/>
<polygon points="373.1,99.9 376.2,103.0 373.1,106.1 370.0,103.0" fill="#fff" stroke="#222" stroke-width="0.9"/>
<polygon points="392.6,94.9 395.7,98.0 392.6,101.1 389.5,98.0" fill="#fff" stroke="#222" stroke-width="0.9"/>
<polygon points="412.3,100.9 415.4,104.0 412.3,107.1 409.2,104.0" fill="#fff" stroke="#222" stroke-width="0.9"/>
<polygon points="431.8,100.6 434.9,103.7 431.8,106.8 428.7,103.7" fill="#fff" stroke="#222" stroke-width="0.9"/>
<polygon points="451.5,102.2 454.6,105.3 451.5,108.4 448.4,105.3" fill="#fff" stroke="#222" stroke-width="0.9"/>
<polygon points="471.0,105.1 474.1,108.2 471.0,111.3 467.9,108.2" fill="#fff" stroke="#222" stroke-width="0.9"/>
<polygon points="490.5,133.3 493.6,136.4 490.5,139.5 487.4,136.4" fill="#fff" stroke="#222" stroke-width="0.9"/>
<polygon points="510.2,180.1 513.1,183.0 510.2,185.9 507.3,183.0" fill="#111" stroke="#111" stroke-width="0.9"/>
<circle cx="490.5" cy="176.6" r="2.4" fill="#111" stroke="#111" stroke-width="1.2"/>
<circle cx="353.6" cy="143.5" r="2.4" fill="#3b55a3" stroke="#3b55a3" stroke-width="1.2"/>
<circle cx="373.1" cy="159.4" r="2.4" fill="#3b55a3" stroke="#3b55a3" stroke-width="1.2"/>
<circle cx="392.6" cy="179.4" r="2.4" fill="#3b55a3" stroke="#3b55a3" stroke-width="1.2"/>
<circle cx="412.3" cy="183.9" r="2.4" fill="#3b55a3" stroke="#3b55a3" stroke-width="1.2"/>
<circle cx="431.8" cy="183.2" r="2.4" fill="#3b55a3" stroke="#3b55a3" stroke-width="1.2"/>
<circle cx="451.5" cy="179.2" r="2.4" fill="#3b55a3" stroke="#3b55a3" stroke-width="1.2"/>
<circle cx="471.0" cy="178.0" r="2.4" fill="#3b55a3" stroke="#3b55a3" stroke-width="1.2"/>
<circle cx="490.5" cy="184.6" r="2.4" fill="#3b55a3" stroke="#3b55a3" stroke-width="1.2"/>
<circle cx="510.2" cy="192.3" r="2.4" fill="#3b55a3" stroke="#3b55a3" stroke-width="1.2"/>
<circle cx="353.6" cy="133.4" r="2.5" fill="#fff" stroke="#3b55a3" stroke-width="1.2"/>
<circle cx="373.1" cy="143.0" r="2.5" fill="#fff" stroke="#3b55a3" stroke-width="1.2"/>
<circle cx="392.6" cy="155.6" r="2.5" fill="#fff" stroke="#3b55a3" stroke-width="1.2"/>
<circle cx="412.3" cy="157.6" r="2.5" fill="#fff" stroke="#3b55a3" stroke-width="1.2"/>
<circle cx="431.8" cy="158.6" r="2.5" fill="#fff" stroke="#3b55a3" stroke-width="1.2"/>
<circle cx="451.5" cy="158.8" r="2.5" fill="#fff" stroke="#3b55a3" stroke-width="1.2"/>
<circle cx="471.0" cy="167.2" r="2.5" fill="#fff" stroke="#3b55a3" stroke-width="1.2"/>
<circle cx="490.5" cy="184.4" r="2.5" fill="#fff" stroke="#3b55a3" stroke-width="1.2"/>
<circle cx="510.2" cy="192.0" r="2.5" fill="#fff" stroke="#3b55a3" stroke-width="1.2"/>
<circle cx="398.6" cy="118.3" r="2.2" fill="#111"/>
<text x="403.80" y="120.88" font-size="6.6" text-anchor="start" font-weight="normal" font-style="normal" fill="#111" stroke="#111" stroke-width="0.2">HCC15</text>
<polygon points="398.6,124.2 401.1,126.7 398.6,129.2 396.1,126.7" fill="#111" stroke="#111" stroke-width="0.9"/>
<text x="403.80" y="129.28" font-size="6.6" text-anchor="start" font-weight="normal" font-style="normal" fill="#111" stroke="#111" stroke-width="0.2">HCC95</text>
<rect x="396.6" y="133.1" width="4.0" height="4.0" fill="#111" stroke="#111" stroke-width="0.9"/>
<text x="403.80" y="137.68" font-size="6.6" text-anchor="start" font-weight="normal" font-style="normal" fill="#111" stroke="#111" stroke-width="0.2">H2882</text>
<circle cx="398.6" cy="143.5" r="2.2" fill="#3b55a3"/>
<text x="403.80" y="146.08" font-size="6.6" text-anchor="start" font-weight="normal" font-style="normal" fill="#3b55a3" stroke="#3b55a3" stroke-width="0.2">H1581</text>
<line x1="483.00" y1="92.20" x2="495.00" y2="92.20" stroke="#111" stroke-width="1.6"/>
<text x="497.50" y="90.24" font-size="6.5" text-anchor="start" font-weight="normal" font-style="normal" fill="#222" stroke="#222" stroke-width="0.2">Empty</text>
<text x="497.50" y="98.54" font-size="6.5" text-anchor="start" font-weight="normal" font-style="normal" fill="#222" stroke="#222" stroke-width="0.2">vector</text>
<line x1="483.00" y1="104.60" x2="495.00" y2="104.60" stroke="#222" stroke-width="1.5" stroke-dasharray="1.5 1.2"/>
<text x="497.50" y="106.74" font-size="6.5" text-anchor="start" font-weight="normal" font-style="normal" fill="#222" stroke="#222" stroke-width="0.2">shMYC</text>
<text x="1.50" y="246.67" font-size="10.2" text-anchor="start" font-weight="bold" font-style="normal" fill="#000" stroke="#000" stroke-width="0.18">C</text>
<line x1="43.40" y1="249.00" x2="43.40" y2="379.30" stroke="#222" stroke-width="0.8"/>
<line x1="43.40" y1="379.30" x2="328.00" y2="379.30" stroke="#222" stroke-width="0.8"/>
<text x="40.30" y="276.96" font-size="6.0" text-anchor="end" font-weight="normal" font-style="normal" fill="#222" stroke="#222" stroke-width="0.2">1</text>
<line x1="42.00" y1="274.30" x2="43.40" y2="274.30" stroke="#222" stroke-width="0.6"/>
<text x="40.30" y="303.21" font-size="6.0" text-anchor="end" font-weight="normal" font-style="normal" fill="#222" stroke="#222" stroke-width="0.2">0.75</text>
<line x1="42.00" y1="300.55" x2="43.40" y2="300.55" stroke="#222" stroke-width="0.6"/>
<text x="40.30" y="329.46" font-size="6.0" text-anchor="end" font-weight="normal" font-style="normal" fill="#222" stroke="#222" stroke-width="0.2">0.5</text>
<line x1="42.00" y1="326.80" x2="43.40" y2="326.80" stroke="#222" stroke-width="0.6"/>
<text x="40.30" y="355.71" font-size="6.0" text-anchor="end" font-weight="normal" font-style="normal" fill="#222" stroke="#222" stroke-width="0.2">0.25</text>
<line x1="42.00" y1="353.05" x2="43.40" y2="353.05" stroke="#222" stroke-width="0.6"/>
<text x="40.30" y="381.96" font-size="6.0" text-anchor="end" font-weight="normal" font-style="normal" fill="#222" stroke="#222" stroke-width="0.2">0</text>
<line x1="42.00" y1="379.30" x2="43.40" y2="379.30" stroke="#222" stroke-width="0.6"/>
<text x="40.30" y="251.56" font-size="6.0" text-anchor="end" font-weight="normal" font-style="normal" fill="#222" stroke="#222" stroke-width="0.2">4.75</text>
<line x1="42.00" y1="249.30" x2="43.40" y2="249.30" stroke="#222" stroke-width="0.6"/>
<line x1="63.55" y1="379.30" x2="63.55" y2="380.90" stroke="#222" stroke-width="0.5"/>
<line x1="83.70" y1="379.30" x2="83.70" y2="380.90" stroke="#222" stroke-width="0.5"/>
<line x1="103.85" y1="379.30" x2="103.85" y2="380.90" stroke="#222" stroke-width="0.5"/>
<line x1="124.00" y1="379.30" x2="124.00" y2="380.90" stroke="#222" stroke-width="0.5"/>
<line x1="144.15" y1="379.30" x2="144.15" y2="380.90" stroke="#222" stroke-width="0.5"/>
<line x1="164.30" y1="379.30" x2="164.30" y2="380.90" stroke="#222" stroke-width="0.5"/>
<line x1="184.45" y1="379.30" x2="184.45" y2="380.90" stroke="#222" stroke-width="0.5"/>
<line x1="204.60" y1="379.30" x2="204.60" y2="380.90" stroke="#222" stroke-width="0.5"/>
<line x1="224.75" y1="379.30" x2="224.75" y2="380.90" stroke="#222" stroke-width="0.5"/>
<line x1="244.90" y1="379.30" x2="244.90" y2="380.90" stroke="#222" stroke-width="0.5"/>
<line x1="265.05" y1="379.30" x2="265.05" y2="380.90" stroke="#222" stroke-width="0.5"/>
<line x1="285.20" y1="379.30" x2="285.20" y2="380.90" stroke="#222" stroke-width="0.5"/>
<line x1="305.35" y1="379.30" x2="305.35" y2="380.90" stroke="#222" stroke-width="0.5"/>
<line x1="325.50" y1="379.30" x2="325.50" y2="380.90" stroke="#222" stroke-width="0.5"/>
<line x1="41.20" y1="272.60" x2="45.60" y2="270.40" stroke="#222" stroke-width="0.6"/>
<line x1="41.20" y1="271.20" x2="45.60" y2="269.00" stroke="#222" stroke-width="0.6"/>
<text x="21.40" y="317.47" font-size="8.25" text-anchor="middle" font-weight="bold" font-style="normal" fill="#111" transform="rotate(-90 21.40 314.50)" stroke="#111" stroke-width="0.18">Expression (% of control)</text>
<rect x="52.10" y="275.40" width="9.60" height="103.90" fill="#f15a29"/>
<rect x="46.70" y="275.40" width="9.70" height="10.90" fill="#939598"/>
<rect x="46.70" y="286.20" width="9.70" height="41.90" fill="#1c75bc"/>
<rect x="46.70" y="328.00" width="9.70" height="51.30" fill="#231f20"/>
<rect x="72.25" y="321.30" width="9.60" height="58.00" fill="#f15a29"/>
<rect x="66.97" y="324.40" width="9.70" height="7.10" fill="#939598"/>
<rect x="66.97" y="331.40" width="9.70" height="2.70" fill="#1c75bc"/>
<rect x="66.97" y="334.00" width="9.70" height="45.30" fill="#231f20"/>
<rect x="92.40" y="247.70" width="9.60" height="131.60" fill="#f15a29"/>
<rect x="87.24" y="336.40" width="9.70" height="6.40" fill="#939598"/>
<rect x="87.24" y="342.70" width="9.70" height="10.20" fill="#1c75bc"/>
<rect x="87.24" y="352.80" width="9.70" height="26.50" fill="#231f20"/>
<rect x="112.55" y="333.00" width="9.60" height="46.30" fill="#f15a29"/>
<rect x="107.51" y="326.50" width="9.70" height="1.60" fill="#939598"/>
<rect x="107.51" y="328.00" width="9.70" height="4.70" fill="#1c75bc"/>
<rect x="107.51" y="332.60" width="9.70" height="46.70" fill="#231f20"/>
<rect x="132.70" y="348.00" width="9.60" height="31.30" fill="#f15a29"/>
<rect x="127.78" y="290.60" width="9.70" height="3.40" fill="#939598"/>
<rect x="127.78" y="293.90" width="9.70" height="85.40" fill="#231f20"/>
<rect x="152.85" y="353.00" width="9.60" height="26.30" fill="#f15a29"/>
<rect x="148.05" y="327.90" width="9.70" height="2.10" fill="#1c75bc"/>
<rect x="148.05" y="329.90" width="9.70" height="49.40" fill="#231f20"/>
<rect x="173.00" y="377.70" width="9.60" height="1.60" fill="#f15a29"/>
<rect x="168.32" y="322.30" width="9.70" height="2.60" fill="#939598"/>
<rect x="168.32" y="324.80" width="9.70" height="10.70" fill="#1c75bc"/>
<rect x="168.32" y="335.40" width="9.70" height="43.90" fill="#231f20"/>
<rect x="193.15" y="360.60" width="9.60" height="18.70" fill="#f15a29"/>
<rect x="188.59" y="374.50" width="9.70" height="1.80" fill="#939598"/>
<rect x="188.59" y="376.20" width="9.70" height="3.10" fill="#231f20"/>
<rect x="213.30" y="364.40" width="9.60" height="14.90" fill="#f15a29"/>
<rect x="208.86" y="373.70" width="9.70" height="3.40" fill="#1c75bc"/>
<rect x="208.86" y="377.00" width="9.70" height="2.30" fill="#231f20"/>
<rect x="233.45" y="339.60" width="9.60" height="39.70" fill="#f15a29"/>
<rect x="229.13" y="351.60" width="9.70" height="1.10" fill="#939598"/>
<rect x="229.13" y="352.60" width="9.70" height="21.70" fill="#1c75bc"/>
<rect x="229.13" y="374.20" width="9.70" height="5.10" fill="#231f20"/>
<rect x="253.60" y="378.00" width="9.60" height="1.30" fill="#f15a29"/>
<rect x="249.40" y="366.00" width="9.70" height="0.50" fill="#939598"/>
<rect x="249.40" y="366.40" width="9.70" height="2.40" fill="#1c75bc"/>
<rect x="249.40" y="368.70" width="9.70" height="10.60" fill="#231f20"/>
<rect x="273.75" y="359.90" width="9.60" height="19.40" fill="#f15a29"/>
<rect x="269.67" y="377.80" width="9.70" height="0.60" fill="#939598"/>
<rect x="269.67" y="378.30" width="9.70" height="1.00" fill="#231f20"/>
<rect x="289.94" y="374.00" width="9.70" height="0.30" fill="#939598"/>
<rect x="289.94" y="374.20" width="9.70" height="1.90" fill="#1c75bc"/>
<rect x="289.94" y="376.00" width="9.70" height="3.30" fill="#231f20"/>
<rect x="314.05" y="378.20" width="9.60" height="1.10" fill="#f15a29"/>
<rect x="310.21" y="366.60" width="9.70" height="0.70" fill="#939598"/>
<rect x="310.21" y="367.20" width="9.70" height="4.00" fill="#1c75bc"/>
<rect x="310.21" y="371.10" width="9.70" height="8.20" fill="#231f20"/>
<polygon points="90.5,274.8 104.5,268.6 104.5,270.6 90.5,276.8" fill="#fff"/>
<line x1="90.80" y1="274.60" x2="104.30" y2="268.60" stroke="#222" stroke-width="0.5"/>
<line x1="90.80" y1="276.90" x2="104.30" y2="270.90" stroke="#222" stroke-width="0.5"/>
<text x="53.50" y="386.82" font-size="5.6" text-anchor="middle" font-weight="normal" font-style="normal" fill="#222" stroke="#222" stroke-width="0.2">H1581</text>
<text x="73.40" y="391.22" font-size="5.6" text-anchor="middle" font-weight="normal" font-style="normal" fill="#222" stroke="#222" stroke-width="0.2">DMS114</text>
<text x="95.50" y="386.82" font-size="5.6" text-anchor="middle" font-weight="normal" font-style="normal" fill="#222" stroke="#222" stroke-width="0.2">HCC1599</text>
<text x="115.00" y="391.22" font-size="5.6" text-anchor="middle" font-weight="normal" font-style="normal" fill="#222" stroke="#222" stroke-width="0.2">A427</text>
<text x="134.80" y="386.22" font-size="5.6" text-anchor="middle" font-weight="normal" font-style="normal" fill="#222" stroke="#222" stroke-width="0.2">H520</text>
<text x="157.20" y="386.22" font-size="5.6" text-anchor="middle" font-weight="normal" font-style="normal" fill="#222" stroke="#222" stroke-width="0.2">H1703</text>
<text x="175.80" y="385.22" font-size="5.6" text-anchor="middle" font-weight="normal" font-style="normal" fill="#222" stroke="#222" stroke-width="0.2">SBC-7</text>
<text x="197.00" y="386.22" font-size="5.6" text-anchor="middle" font-weight="normal" font-style="normal" fill="#222" stroke="#222" stroke-width="0.2">HCC15</text>
<text x="212.20" y="391.22" font-size="5.6" text-anchor="middle" font-weight="normal" font-style="normal" fill="#222" stroke="#222" stroke-width="0.2">H358</text>
<text x="234.80" y="386.22" font-size="5.6" text-anchor="middle" font-weight="normal" font-style="normal" fill="#222" stroke="#222" stroke-width="0.2">HCC95</text>
<text x="254.80" y="391.22" font-size="5.6" text-anchor="middle" font-weight="normal" font-style="normal" fill="#222" stroke="#222" stroke-width="0.2">H187</text>
<text x="276.20" y="386.22" font-size="5.6" text-anchor="middle" font-weight="normal" font-style="normal" fill="#222" stroke="#222" stroke-width="0.2">SW1271</text>
<text x="295.40" y="391.22" font-size="5.6" text-anchor="middle" font-weight="normal" font-style="normal" fill="#222" stroke="#222" stroke-width="0.2">H526</text>
<text x="316.00" y="386.22" font-size="5.6" text-anchor="middle" font-weight="normal" font-style="normal" fill="#222" stroke="#222" stroke-width="0.2">DMS153</text>
<text x="170.80" y="396.94" font-size="7.6" text-anchor="middle" font-weight="bold" font-style="normal" fill="#111" stroke="#111" stroke-width="0.18">Cell lines</text>
<text x="16.40" y="396.24" font-size="7.6" text-anchor="start" font-weight="normal" font-style="normal" fill="#222" stroke="#222" stroke-width="0.2">FGFR1</text>
<text x="16.40" y="406.44" font-size="7.6" text-anchor="start" font-weight="normal" font-style="normal" fill="#222" stroke="#222" stroke-width="0.2">Copy</text>
<text x="16.40" y="415.04" font-size="7.6" text-anchor="start" font-weight="normal" font-style="normal" fill="#222" stroke="#222" stroke-width="0.2">number</text>
<rect x="43.40" y="399.60" width="20.15" height="7.80" fill="#ed1c24"/>
<text x="53.47" y="406.09" font-size="7.2" text-anchor="middle" font-weight="normal" font-style="normal" fill="#7d0d13" stroke="#7d0d13" stroke-width="0.45">4.3</text>
<rect x="63.55" y="399.60" width="20.15" height="7.80" fill="#ed1c24"/>
<text x="73.62" y="406.09" font-size="7.2" text-anchor="middle" font-weight="normal" font-style="normal" fill="#7d0d13" stroke="#7d0d13" stroke-width="0.45">5.5</text>
<rect x="83.70" y="399.60" width="20.15" height="7.80" fill="#ed1c24"/>
<text x="93.77" y="406.09" font-size="7.2" text-anchor="middle" font-weight="normal" font-style="normal" fill="#7d0d13" stroke="#7d0d13" stroke-width="0.45">3.5</text>
<rect x="103.85" y="399.60" width="20.15" height="7.80" fill="#ffffff"/>
<text x="113.92" y="406.09" font-size="7.2" text-anchor="middle" font-weight="normal" font-style="normal" fill="#222" stroke="#222" stroke-width="0.2">2</text>
<rect x="124.00" y="399.60" width="20.15" height="7.80" fill="#ed1c24"/>
<text x="134.07" y="406.09" font-size="7.2" text-anchor="middle" font-weight="normal" font-style="normal" fill="#7d0d13" stroke="#7d0d13" stroke-width="0.45">3.3</text>
<rect x="144.15" y="399.60" width="20.15" height="7.80" fill="#ed1c24"/>
<text x="154.23" y="406.09" font-size="7.2" text-anchor="middle" font-weight="normal" font-style="normal" fill="#7d0d13" stroke="#7d0d13" stroke-width="0.45">4.1</text>
<rect x="164.30" y="399.60" width="20.15" height="7.80" fill="#ed1c24"/>
<text x="174.38" y="406.09" font-size="7.2" text-anchor="middle" font-weight="normal" font-style="normal" fill="#7d0d13" stroke="#7d0d13" stroke-width="0.45">5.7</text>
<rect x="184.45" y="399.60" width="20.15" height="7.80" fill="#1c75bc"/>
<text x="194.52" y="406.09" font-size="7.2" text-anchor="middle" font-weight="normal" font-style="normal" fill="#0d3a66" stroke="#0d3a66" stroke-width="0.45">1.4</text>
<rect x="204.60" y="399.60" width="20.15" height="7.80" fill="#ffffff"/>
<text x="214.68" y="406.09" font-size="7.2" text-anchor="middle" font-weight="normal" font-style="normal" fill="#222" stroke="#222" stroke-width="0.2">2.2</text>
<rect x="224.75" y="399.60" width="20.15" height="7.80" fill="#ed1c24"/>
<text x="234.82" y="406.09" font-size="7.2" text-anchor="middle" font-weight="normal" font-style="normal" fill="#7d0d13" stroke="#7d0d13" stroke-width="0.45">3.9</text>
<rect x="244.90" y="399.60" width="20.15" height="7.80" fill="#1c75bc"/>
<text x="254.98" y="406.09" font-size="7.2" text-anchor="middle" font-weight="normal" font-style="normal" fill="#0d3a66" stroke="#0d3a66" stroke-width="0.45">1.4</text>
<rect x="265.05" y="399.60" width="20.15" height="7.80" fill="#1c75bc"/>
<text x="275.12" y="406.09" font-size="7.2" text-anchor="middle" font-weight="normal" font-style="normal" fill="#0d3a66" stroke="#0d3a66" stroke-width="0.45">0.8</text>
<rect x="285.20" y="399.60" width="20.15" height="7.80" fill="#1c75bc"/>
<text x="295.27" y="406.09" font-size="7.2" text-anchor="middle" font-weight="normal" font-style="normal" fill="#0d3a66" stroke="#0d3a66" stroke-width="0.45">1.4</text>
<rect x="305.35" y="399.60" width="20.15" height="7.80" fill="#ffffff"/>
<text x="315.42" y="406.09" font-size="7.2" text-anchor="middle" font-weight="normal" font-style="normal" fill="#222" stroke="#222" stroke-width="0.2">2</text>
<rect x="43.40" y="399.60" width="282.10" height="7.80" fill="none" stroke="#222" stroke-width="0.7"/>
<line x1="103.85" y1="399.60" x2="103.85" y2="407.40" stroke="#222" stroke-width="0.6"/>
<line x1="124.00" y1="399.60" x2="124.00" y2="407.40" stroke="#222" stroke-width="0.6"/>
<line x1="204.60" y1="399.60" x2="204.60" y2="407.40" stroke="#222" stroke-width="0.6"/>
<line x1="224.75" y1="399.60" x2="224.75" y2="407.40" stroke="#222" stroke-width="0.6"/>
<line x1="305.35" y1="399.60" x2="305.35" y2="407.40" stroke="#222" stroke-width="0.6"/>
<polygon points="41.5,424.1 43.4,423.7 63.5,423.7 63.5,423.1 83.7,423.1 83.7,423.0 103.8,423.0 103.8,420.5 124.0,420.5 124.0,419.1 144.2,419.1 144.2,418.5 164.3,418.5 164.3,418.2 184.4,418.2 184.4,418.0 204.6,418.0 204.6,417.5 224.8,417.5 224.8,416.0 244.9,416.0 244.9,414.0 265.1,414.0 265.0,412.3 285.2,412.3 285.2,412.3 305.3,412.3 305.3,412.3 325.5,412.3 325.5,424.1" fill="#151515"/>
<text x="137.00" y="433.15" font-size="7.65" text-anchor="start" font-weight="normal" font-style="normal" fill="#222" stroke="#222" stroke-width="0.2">GI<tspan font-size="4.2" dy="1.6">50</tspan><tspan dy="-1.6"> values (PD173074)</tspan></text>
<rect x="118.60" y="247.20" width="3.80" height="3.80" fill="#f15a29"/>
<text x="123.20" y="251.62" font-size="7.0" text-anchor="start" font-weight="normal" font-style="normal" fill="#222" stroke="#222" stroke-width="0.2">c-MYC</text>
<rect x="149.00" y="247.20" width="3.80" height="3.80" fill="#231f20"/>
<text x="154.20" y="251.62" font-size="7.0" text-anchor="start" font-weight="normal" font-style="italic" fill="#222" stroke="#222" stroke-width="0.2">FGFR1</text>
<rect x="181.70" y="247.20" width="3.80" height="3.80" fill="#1c75bc"/>
<text x="186.90" y="251.62" font-size="7.0" text-anchor="start" font-weight="normal" font-style="italic" fill="#222" stroke="#222" stroke-width="0.2">FGFR2</text>
<rect x="214.60" y="247.20" width="3.80" height="3.80" fill="#8dc63f"/>
<text x="220.80" y="251.62" font-size="7.0" text-anchor="start" font-weight="normal" font-style="italic" fill="#222" stroke="#222" stroke-width="0.2">FGFR3</text>
<rect x="250.20" y="247.20" width="3.80" height="3.80" fill="#939598"/>
<text x="255.40" y="251.62" font-size="7.0" text-anchor="start" font-weight="normal" font-style="italic" fill="#222" stroke="#222" stroke-width="0.2">FGFR4</text>
<line x1="223.70" y1="262.00" x2="223.70" y2="317.30" stroke="#333" stroke-width="0.7"/>
<line x1="223.70" y1="317.30" x2="335.00" y2="317.30" stroke="#333" stroke-width="0.7"/>
<text x="220.60" y="264.24" font-size="5.4" text-anchor="end" font-weight="normal" font-style="normal" fill="#333" stroke="#333" stroke-width="0.2">1</text>
<line x1="222.40" y1="262.30" x2="223.70" y2="262.30" stroke="#333" stroke-width="0.5"/>
<text x="220.60" y="277.99" font-size="5.4" text-anchor="end" font-weight="normal" font-style="normal" fill="#333" stroke="#333" stroke-width="0.2">0.75</text>
<line x1="222.40" y1="276.05" x2="223.70" y2="276.05" stroke="#333" stroke-width="0.5"/>
<text x="220.60" y="291.74" font-size="5.4" text-anchor="end" font-weight="normal" font-style="normal" fill="#333" stroke="#333" stroke-width="0.2">0.5</text>
<line x1="222.40" y1="289.80" x2="223.70" y2="289.80" stroke="#333" stroke-width="0.5"/>
<text x="220.60" y="305.49" font-size="5.4" text-anchor="end" font-weight="normal" font-style="normal" fill="#333" stroke="#333" stroke-width="0.2">0.25</text>
<line x1="222.40" y1="303.55" x2="223.70" y2="303.55" stroke="#333" stroke-width="0.5"/>
<text x="220.60" y="319.24" font-size="5.4" text-anchor="end" font-weight="normal" font-style="normal" fill="#333" stroke="#333" stroke-width="0.2">0</text>
<line x1="222.40" y1="317.30" x2="223.70" y2="317.30" stroke="#333" stroke-width="0.5"/>
<text x="228.30" y="324.34" font-size="5.4" text-anchor="middle" font-weight="normal" font-style="normal" fill="#333" stroke="#333" stroke-width="0.2">0.1</text>
<line x1="228.30" y1="317.30" x2="228.30" y2="318.60" stroke="#333" stroke-width="0.5"/>
<text x="265.80" y="324.34" font-size="5.4" text-anchor="middle" font-weight="normal" font-style="normal" fill="#333" stroke="#333" stroke-width="0.2">0.5</text>
<line x1="265.80" y1="317.30" x2="265.80" y2="318.60" stroke="#333" stroke-width="0.5"/>
<text x="281.60" y="324.34" font-size="5.4" text-anchor="middle" font-weight="normal" font-style="normal" fill="#333" stroke="#333" stroke-width="0.2">1</text>
<line x1="281.60" y1="317.30" x2="281.60" y2="318.60" stroke="#333" stroke-width="0.5"/>
<text x="317.70" y="324.34" font-size="5.4" text-anchor="middle" font-weight="normal" font-style="normal" fill="#333" stroke="#333" stroke-width="0.2">5</text>
<line x1="317.70" y1="317.30" x2="317.70" y2="318.60" stroke="#333" stroke-width="0.5"/>
<text x="333.30" y="324.34" font-size="5.4" text-anchor="middle" font-weight="normal" font-style="normal" fill="#333" stroke="#333" stroke-width="0.2">10</text>
<line x1="333.30" y1="317.30" x2="333.30" y2="318.60" stroke="#333" stroke-width="0.5"/>
<text x="279.50" y="332.16" font-size="6.0" text-anchor="middle" font-weight="bold" font-style="normal" fill="#222" stroke="#222" stroke-width="0.18">GI<tspan font-size="3.8" dy="1.4">50</tspan><tspan dy="-1.4"> values of PD173074 (µmol/L)</tspan></text>
<text x="195.80" y="296.12" font-size="5.9" text-anchor="middle" font-weight="bold" font-style="normal" fill="#222" transform="rotate(-90 195.80 294.00)" stroke="#222" stroke-width="0.18">FGFR1 x c-myc</text>
<text x="203.20" y="295.62" font-size="5.9" text-anchor="middle" font-weight="bold" font-style="normal" fill="#222" transform="rotate(-90 203.20 293.50)" stroke="#222" stroke-width="0.18">expression</text>
<circle cx="238" cy="294.8" r="1.8" fill="#6289c6" opacity="0.92"/>
<circle cx="259" cy="263.7" r="1.8" fill="#6289c6" opacity="0.92"/>
<circle cx="254.8" cy="307.8" r="1.8" fill="#6289c6" opacity="0.92"/>
<circle cx="299" cy="309.2" r="1.8" fill="#6289c6" opacity="0.92"/>
<circle cx="309.6" cy="311.2" r="1.8" fill="#6289c6" opacity="0.92"/>
<circle cx="314.8" cy="305.8" r="1.8" fill="#6289c6" opacity="0.92"/>
<circle cx="309" cy="316.2" r="1.8" fill="#6289c6" opacity="0.92"/>
<circle cx="317.7" cy="316.2" r="1.8" fill="#6289c6" opacity="0.92"/>
<circle cx="322.6" cy="315.6" r="1.8" fill="#6289c6" opacity="0.92"/>
<circle cx="327.8" cy="316" r="1.8" fill="#6289c6" opacity="0.92"/>
<circle cx="332" cy="316.3" r="1.8" fill="#6289c6" opacity="0.92"/>
<line x1="238.00" y1="293.40" x2="308.20" y2="317.00" stroke="#36444f" stroke-width="1.0"/>
<text x="230.00" y="302.82" font-size="5.6" text-anchor="start" font-weight="normal" font-style="normal" fill="#333" stroke="#333" stroke-width="0.2">H1581</text>
<text x="243.60" y="312.25" font-size="5.7" text-anchor="start" font-weight="normal" font-style="normal" fill="#333" stroke="#333" stroke-width="0.2">DMS114</text>
<text x="264.00" y="299.82" font-size="5.6" text-anchor="start" font-weight="normal" font-style="normal" fill="#333" stroke="#333" stroke-width="0.2">r = −0.63</text>
<text x="299.50" y="271.78" font-size="5.5" text-anchor="start" font-weight="normal" font-style="normal" fill="#333" stroke="#333" stroke-width="0.2"><tspan font-style="italic">P</tspan> = 0.02</text>
<text x="372.60" y="246.67" font-size="10.2" text-anchor="start" font-weight="bold" font-style="normal" fill="#000" stroke="#000" stroke-width="0.18">D</text>
<line x1="410.80" y1="280.80" x2="410.80" y2="381.00" stroke="#222" stroke-width="0.8"/>
<line x1="410.80" y1="381.00" x2="481.50" y2="381.00" stroke="#222" stroke-width="0.8"/>
<text x="408.40" y="285.58" font-size="6.6" text-anchor="end" font-weight="normal" font-style="normal" fill="#222" stroke="#222" stroke-width="0.2">0.5</text>
<line x1="409.00" y1="283.20" x2="410.80" y2="283.20" stroke="#222" stroke-width="0.6"/>
<text x="408.40" y="334.18" font-size="6.6" text-anchor="end" font-weight="normal" font-style="normal" fill="#222" stroke="#222" stroke-width="0.2">0.25</text>
<line x1="409.00" y1="331.80" x2="410.80" y2="331.80" stroke="#222" stroke-width="0.6"/>
<text x="408.40" y="382.38" font-size="6.6" text-anchor="end" font-weight="normal" font-style="normal" fill="#222" stroke="#222" stroke-width="0.2">0</text>
<line x1="409.00" y1="380.00" x2="410.80" y2="380.00" stroke="#222" stroke-width="0.6"/>
<line x1="409.40" y1="307.40" x2="410.80" y2="307.40" stroke="#222" stroke-width="0.5"/>
<line x1="409.40" y1="356.00" x2="410.80" y2="356.00" stroke="#222" stroke-width="0.5"/>
<text x="378.80" y="333.95" font-size="8.2" text-anchor="middle" font-weight="bold" font-style="normal" fill="#111" transform="rotate(-90 378.80 331.00)" stroke="#111" stroke-width="0.18">Normalized expression</text>
<text x="389.00" y="333.95" font-size="8.2" text-anchor="middle" font-weight="bold" font-style="normal" fill="#111" transform="rotate(-90 389.00 331.00)" stroke="#111" stroke-width="0.18">(% of control)</text>
<rect x="418.50" y="291.00" width="9.90" height="87.60" fill="#231f20"/>
<rect x="432.30" y="297.00" width="10.50" height="81.60" fill="#f15a29"/>
<rect x="449.20" y="334.80" width="10.20" height="43.80" fill="#231f20"/>
<rect x="464.60" y="371.70" width="10.20" height="6.90" fill="#f15a29"/>
<line x1="423.40" y1="291.00" x2="423.40" y2="275.50" stroke="#333" stroke-width="0.7"/>
<line x1="420.80" y1="275.50" x2="426.00" y2="275.50" stroke="#333" stroke-width="0.7"/>
<line x1="437.40" y1="297.00" x2="437.40" y2="247.00" stroke="#444" stroke-width="0.7"/>
<line x1="436.20" y1="247.00" x2="438.80" y2="247.00" stroke="#444" stroke-width="0.7"/>
<line x1="454.30" y1="334.80" x2="454.30" y2="323.70" stroke="#333" stroke-width="0.7"/>
<line x1="451.80" y1="323.70" x2="456.80" y2="323.70" stroke="#333" stroke-width="0.7"/>
<line x1="469.70" y1="371.70" x2="469.70" y2="369.30" stroke="#333" stroke-width="0.7"/>
<line x1="467.40" y1="369.30" x2="472.00" y2="369.30" stroke="#333" stroke-width="0.7"/>
<line x1="437.40" y1="243.70" x2="470.00" y2="243.70" stroke="#444" stroke-width="0.7"/>
<line x1="470.00" y1="243.70" x2="470.00" y2="245.80" stroke="#444" stroke-width="0.7"/>
<line x1="437.40" y1="243.70" x2="437.40" y2="245.40" stroke="#444" stroke-width="0.7"/>
<text x="442.80" y="249.29" font-size="5.8" text-anchor="start" font-weight="normal" font-style="normal" fill="#4a4a4a" stroke="#4a4a4a" stroke-width="0.1"><tspan font-style="italic">P</tspan> = 0.02</text>
<text x="483.80" y="257.94" font-size="7.6" text-anchor="middle" font-weight="bold" font-style="normal" fill="#111" stroke="#111" stroke-width="0.18">PD173074</text>
<text x="476.20" y="264.43" font-size="7.3" text-anchor="middle" font-weight="normal" font-style="normal" fill="#222" stroke="#222" stroke-width="0.2">sens</text>
<text x="494.60" y="264.43" font-size="7.3" text-anchor="middle" font-weight="normal" font-style="normal" fill="#222" stroke="#222" stroke-width="0.2">res</text>
<text x="448.40" y="277.83" font-size="7.3" text-anchor="middle" font-weight="bold" font-style="italic" fill="#111" transform="rotate(-90 448.40 275.20)" stroke="#111" stroke-width="0.18">FGFR1</text>
<text x="468.40" y="275.03" font-size="7.3" text-anchor="end" font-weight="normal" font-style="normal" fill="#222" stroke="#222" stroke-width="0.2">amp</text>
<text x="466.40" y="288.43" font-size="7.3" text-anchor="end" font-weight="normal" font-style="normal" fill="#222" stroke="#222" stroke-width="0.2">wt</text>
<line x1="485.00" y1="267.00" x2="485.00" y2="290.40" stroke="#2a2a2a" stroke-width="1.1"/>
<line x1="468.90" y1="278.90" x2="500.40" y2="278.90" stroke="#2a2a2a" stroke-width="1.1"/>
<text x="476.60" y="276.71" font-size="7.8" text-anchor="middle" font-weight="normal" font-style="normal" fill="#222" stroke="#222" stroke-width="0.2">3</text>
<text x="492.40" y="276.71" font-size="7.8" text-anchor="middle" font-weight="normal" font-style="normal" fill="#222" stroke="#222" stroke-width="0.2">3</text>
<text x="476.60" y="289.01" font-size="7.8" text-anchor="middle" font-weight="normal" font-style="normal" fill="#222" stroke="#222" stroke-width="0.2">0</text>
<text x="492.40" y="289.01" font-size="7.8" text-anchor="middle" font-weight="normal" font-style="normal" fill="#222" stroke="#222" stroke-width="0.2">7</text>
<rect x="460.60" y="302.40" width="3.60" height="3.60" fill="#231f20"/>
<text x="467.90" y="307.21" font-size="7.8" text-anchor="start" font-weight="normal" font-style="italic" fill="#333" stroke="#333" stroke-width="0.2">FGFR1</text>
<rect x="460.60" y="311.10" width="3.60" height="3.60" fill="#f15a29"/>
<text x="467.90" y="315.87" font-size="7.7" text-anchor="start" font-weight="normal" font-style="normal" fill="#333" stroke="#333" stroke-width="0.2">c-MYC</text>
<text x="431.50" y="390.18" font-size="6.6" text-anchor="middle" font-weight="normal" font-style="normal" fill="#222" stroke="#222" stroke-width="0.2">n = 3</text>
<text x="462.30" y="390.18" font-size="6.6" text-anchor="middle" font-weight="normal" font-style="normal" fill="#222" stroke="#222" stroke-width="0.2">n = 10</text>
<rect x="410.80" y="393.80" width="33.80" height="2.10" fill="#00a651"/>
<rect x="444.60" y="393.80" width="36.90" height="2.10" fill="#d2232a"/>
<text x="427.20" y="405.23" font-size="7.3" text-anchor="middle" font-weight="normal" font-style="normal" fill="#00a04a" stroke="#00a04a" stroke-width="0.2">Sensitive</text>
<text x="463.60" y="405.23" font-size="7.3" text-anchor="middle" font-weight="normal" font-style="normal" fill="#e0212a" stroke="#e0212a" stroke-width="0.2">Resistant</text>
</svg>
</body></html>
